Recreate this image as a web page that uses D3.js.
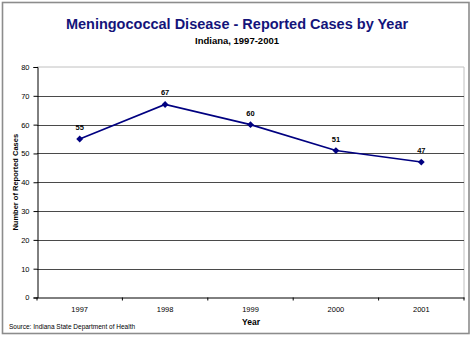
<!DOCTYPE html>
<html><head><meta charset="utf-8">
<script src="https://cdn.jsdelivr.net/npm/d3@7"></script>
<style>body{margin:0;background:#fff}svg{display:block}text{font-family:"Liberation Sans",Arial,sans-serif}</style>
</head><body><svg id="c" width="474" height="338"></svg>
<script>
const years = ["1997","1998","1999","2000","2001"];
const cases = [55, 67, 60, 51, 47];
const yTicks = [0,10,20,30,40,50,60,70,80];

const svg = d3.select("#c");
svg.append("rect").attr("x",2.5).attr("y",2.5).attr("width",466.5).attr("height",331).attr("fill","#fff").attr("stroke","#8c8c8c").attr("stroke-width",1.6);

const L=37, R=464, T=67, B=297.5;
const x = d3.scaleBand().domain(years).range([L,R]);
const y = d3.scaleLinear().domain([0,80]).range([B,T]);

svg.append("path").attr("d",`M${L},${T}H${R}V${B}`).attr("fill","none").attr("stroke","#c0c0c0").attr("stroke-width",1);
svg.append("g").selectAll("line").data(yTicks.filter(d=>d>0&&d<80)).join("line")
  .attr("x1",L).attr("x2",R).attr("y1",d=>Math.round(y(d))+0.5).attr("y2",d=>Math.round(y(d))+0.5)
  .attr("stroke","#4a4a4a").attr("stroke-width",1);

const ya = svg.append("g").attr("transform",`translate(${L+0.5},0)`)
  .call(d3.axisLeft(y).tickValues(yTicks).tickSize(4).tickPadding(4));
ya.select(".domain").attr("stroke","#000");
ya.selectAll("text").attr("font-size",7.5).attr("fill","#000");
const xa = svg.append("g").attr("transform",`translate(0,${B})`)
  .call(d3.axisBottom(x).tickSize(0).tickPadding(9));
xa.select(".domain").attr("stroke","#000");
xa.selectAll("text").attr("font-size",7.5).attr("fill","#000");
xa.append("g").selectAll("line").data(years.concat(["_end"])).join("line")
  .attr("x1",(d,i)=>L+i*x.step()).attr("x2",(d,i)=>L+i*x.step()).attr("y1",0).attr("y2",3).attr("stroke","#000");

const line = d3.line().x((d,i)=>x(years[i])+x.bandwidth()/2).y(d=>y(d));
svg.append("path").datum(cases).attr("d",line).attr("fill","none").attr("stroke","#000080").attr("stroke-width",1.6);
const diamond = d3.symbolDiamond2 || d3.symbolDiamond;
svg.append("g").selectAll("path").data(cases).join("path")
  .attr("transform",(d,i)=>`translate(${x(years[i])+x.bandwidth()/2},${y(d)})`)
  .attr("d",d3.symbol(diamond,30)).attr("fill","#000080");
svg.append("g").selectAll("text").data(cases).join("text")
  .attr("x",(d,i)=>x(years[i])+x.bandwidth()/2).attr("y",d=>y(d)-9)
  .attr("text-anchor","middle").attr("font-size",7.5).attr("font-weight","bold").text(d=>d);

svg.append("text").attr("x",237).attr("y",28.5).attr("text-anchor","middle").attr("font-size",14.5).attr("font-weight","bold").attr("fill","#14147a").text("Meningococcal Disease - Reported Cases by Year");
svg.append("text").attr("x",237).attr("y",43.5).attr("text-anchor","middle").attr("font-size",9.5).attr("font-weight","bold").attr("fill","#000").text("Indiana, 1997-2001");
svg.append("text").attr("transform",`translate(18,${(T+B)/2}) rotate(-90)`).attr("text-anchor","middle").attr("font-size",7.5).attr("font-weight","bold").text("Number of Reported Cases");
svg.append("text").attr("x",251).attr("y",325).attr("text-anchor","middle").attr("font-size",8.5).attr("font-weight","bold").text("Year");
svg.append("text").attr("x",9).attr("y",329).attr("font-size",6.5).text("Source: Indiana State Department of Health");
</script></body></html>
